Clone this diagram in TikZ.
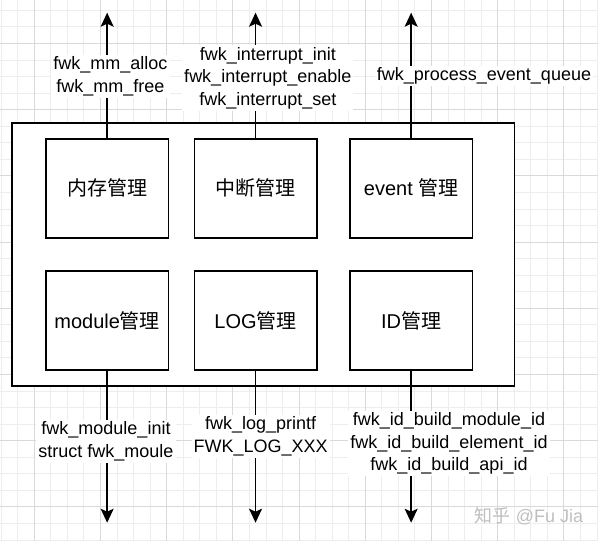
\documentclass[tikz,border=0pt]{standalone}
\usepackage{fontspec}
\setmainfont{Liberation Sans}
\newfontfamily\cjk{Noto Sans CJK SC}
\usetikzlibrary{positioning, arrows.meta}

\begin{document}
\begin{tikzpicture}
    [
        x=1pt, y=-1pt, node distance=132.2pt and 148.4pt, on grid,
        minor_grid/.style={line width=0.6pt, color=black!7},
        major_grid/.style={line width=0.6pt, color=black!15},
        outer_box/.style={rectangle, draw=black, fill=white, line width=1.6pt, minimum width=502.6pt, minimum height=263.3pt},
        module_box/.style={rectangle, draw=black, fill=white, line width=1.6pt, minimum width=122.3pt, minimum height=98.7pt, font=\fontsize{20}{24}\selectfont},
        api_label/.style={fill=white, align=center, inner sep=2pt, font=\fontsize{18}{22.5}\selectfont},
        api_arrow/.style={-{Stealth[length=14pt, width=13pt, inset=3pt]}, line width=1.6pt, color=black},
    ]
        \useasboundingbox (0,0) rectangle (598,541);
        \fill[white] (0,0) rectangle (598,541);
        % background grid
        \foreach \gx in {0,...,36} \draw[minor_grid] ({1+16.55*\gx},0) -- ({1+16.55*\gx},541);
        \foreach \gy in {0,...,32} \draw[minor_grid] (0,{10.2+16.55*\gy}) -- (598,{10.2+16.55*\gy});
        \foreach \gx in {0,...,8} \draw[major_grid] ({34.1+66.2*\gx},0) -- ({34.1+66.2*\gx},541);
        \foreach \gy in {0,...,7} \draw[major_grid] (0,{43.3+66.2*\gy}) -- (598,{43.3+66.2*\gy});
        % framework
        \node[outer_box] (fwk) at (263,254.35) {};
        \node[module_box] (mem) at (107.15,188.35) {{\cjk 内存管理}};
        \node[module_box] (intr) [right = of mem] {{\cjk 中断管理}};
        \node[module_box] (evt) [right = 155.6pt of intr] {event {\cjk 管理}};
        \node[module_box] (mod) [below = of mem] {module{\cjk 管理}};
        \node[module_box] (log) [below = of intr] {LOG{\cjk 管理}};
        \node[module_box] (id) [below = of evt] {ID{\cjk 管理}};
        % arrow ends
        \coordinate (mem_out) at (mem.north |- 0,12.7);
        \coordinate (intr_out) at (intr.north |- 0,12.7);
        \coordinate (evt_out) at (evt.north |- 0,12.7);
        \coordinate (mod_out) at (mod.south |- 0,522.7);
        \coordinate (log_out) at (log.south |- 0,522.7);
        \coordinate (id_out) at (id.south |- 0,522.7);
        \draw[api_arrow] (mem.north) to (mem_out);
        \draw[api_arrow] (intr.north) to (intr_out);
        \draw[api_arrow] (evt.north) to (evt_out);
        \draw[api_arrow] (mod.south) to (mod_out);
        \draw[api_arrow] (log.south) to (log_out);
        \draw[api_arrow] (id.south) to (id_out);
        % api labels
        \node[api_label] (mem_api) at (110.5,76.5) {fwk\_mm\_alloc\\fwk\_mm\_free};
        \node[api_label] (intr_api) at (267.8,78) {fwk\_interrupt\_init\\fwk\_interrupt\_enable\\fwk\_interrupt\_set};
        \node[api_label] (evt_api) at (484,76) {fwk\_process\_event\_queue};
        \node[api_label] (mod_api) at (106,441.5) {fwk\_module\_init\\struct fwk\_moule};
        \node[api_label] (log_api) at (260.7,436.5) {fwk\_log\_printf\\FWK\_LOG\_XXX};
        \node[api_label] (id_api) at (449,443.5) {fwk\_id\_build\_module\_id\\fwk\_id\_build\_element\_id\\fwk\_id\_build\_api\_id};
        \node[text=black!25, font=\fontsize{18}{22}\selectfont] (mark) at (529,516) {{\cjk 知乎} @Fu Jia};
\end{tikzpicture}
\end{document}
